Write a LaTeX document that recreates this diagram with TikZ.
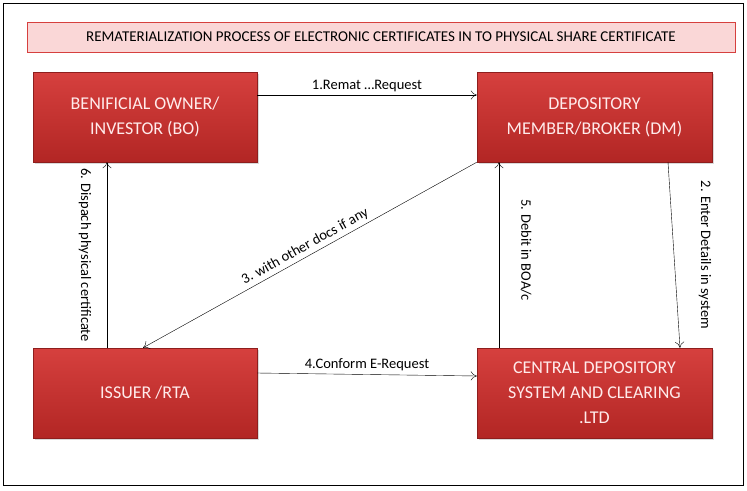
\documentclass[tikz,border=0pt]{standalone}
\usepackage{fontspec}
\setmainfont{Carlito}
\usetikzlibrary{arrows.meta,positioning,shadows}
\definecolor{boxtop}{RGB}{214,64,62}
\definecolor{boxbottom}{RGB}{178,38,36}
\definecolor{titlepink}{RGB}{250,215,215}
\tikzset
{
    process/.style={rectangle, draw=boxbottom!80!black, top color=boxtop, bottom color=boxbottom, text=white!92!red, minimum width=224pt, minimum height=90pt, align=center, font=\fontsize{18}{25}\selectfont, drop shadow={opacity=0.3}},
    titlebox/.style={rectangle, draw=boxtop, fill=titlepink, minimum width=708pt, minimum height=30pt, font=\fontsize{15}{18}\selectfont},
    arrow/.style={-{To[length=6pt, width=9pt]}},
    lbl/.style={font=\fontsize{14.5}{17}\selectfont}
}
\begin{document}
\begin{tikzpicture}[x=1pt, y=-1pt]
   \useasboundingbox (0,0) rectangle (747,490);
   \draw (3,3) rectangle (743,485);

   \node (title) [titlebox] at (381, 37) {REMATERIALIZATION PROCESS OF ELECTRONIC CERTIFICATES IN TO PHYSICAL SHARE CERTIFICATE};

   \node (bo)  [process] at (145, 117) {BENIFICIAL OWNER/\\INVESTOR (BO)};
   \node (dm)  [process, minimum width=235pt] at (594.5, 117) {DEPOSITORY\\MEMBER/BROKER (DM)};
   \node (rta) [process] at (145, 393) {ISSUER /RTA};
   \node (cds) [process, minimum width=235pt] at (594.5, 393) {CENTRAL DEPOSITORY\\SYSTEM AND CLEARING\\.LTD};

   \draw[arrow] (bo.east |- 0,95) -- node[lbl, above] {1.Remat …Request} (dm.west |- 0,95);
   \draw[arrow] (dm.south -| 668,0) -- coordinate[midway] (m2) (cds.north -| 680,0);
   \draw[arrow] (dm.south west) -- node[lbl, sloped, above] {3. with other docs if any} (rta.north -| 143,0);
   \draw[arrow] (rta.east |- 0,373) -- node[lbl, above] {4.Conform E-Request} (cds.west |- 0,376);
   \draw[arrow] (cds.north -| 499,0) -- coordinate[midway] (m5) (dm.south -| 499,0);
   \draw[arrow] (rta.north -| 107,0) -- coordinate[midway] (m6) (bo.south -| 107,0);

   \node (l2) [lbl, rotate=-90] at ([xshift=31pt]m2) {2. Enter Details in system};
   \node (l5) [lbl, rotate=-90] at ([xshift=27pt, yshift=5pt]m5) {5. Debit in BOA/c};
   \node (l6) [lbl, rotate=-90] at ([xshift=-22pt]m6) {6. Dispach physical certificate};
\end{tikzpicture}
\end{document}
